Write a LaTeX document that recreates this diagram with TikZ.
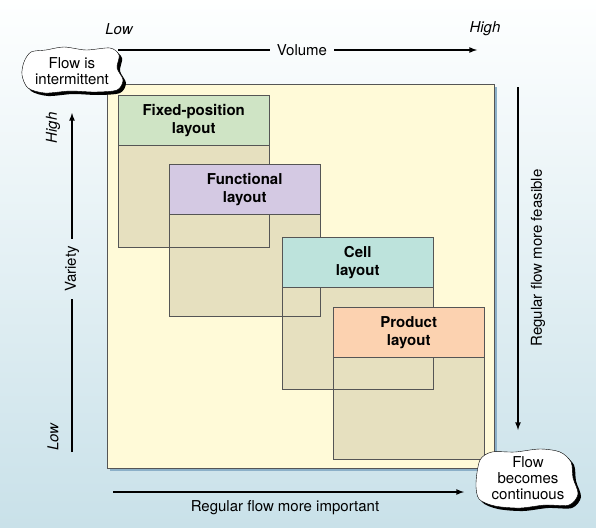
\documentclass[tikz,border=0pt]{standalone}
\usepackage{fontspec}
\setmainfont{TeX Gyre Heros}
\usepackage{tikz}
\definecolor{panel}{RGB}{255,250,216}
\definecolor{panelshadow}{RGB}{140,176,200}
\definecolor{tan}{RGB}{230,224,191}
\definecolor{boxline}{RGB}{85,85,85}
\definecolor{fixedc}{RGB}{207,228,197}
\definecolor{funcc}{RGB}{212,201,227}
\definecolor{cellc}{RGB}{189,227,220}
\definecolor{prodc}{RGB}{252,210,176}
\definecolor{bgtop}{RGB}{254,255,255}
\definecolor{bgbot}{RGB}{201,225,233}
\tikzstyle{body} = [fill=tan, minimum width=151pt, minimum height=152pt, anchor=north west, inner sep=0pt]
\tikzstyle{head} = [draw=boxline, minimum width=151pt, minimum height=50pt, anchor=north west, inner sep=0pt, align=center, font={\fontsize{15}{18}\selectfont\bfseries}]
\tikzstyle{axis} = [line width=1.6pt, -latex]
\tikzstyle{gap} = [inner sep=7pt]
\tikzstyle{lowhigh} = [font={\fontsize{15}{18}\selectfont\itshape}]
\tikzstyle{cloudtext} = [align=center, font={\fontsize{15}{16}\selectfont}]

\begin{document}
\begin{tikzpicture}[x=1pt, y=-1pt, font={\fontsize{15}{18}\selectfont}]
    \useasboundingbox (0,0) rectangle (596,527);
    \shade[top color=bgtop, bottom color=bgbot] (0,0) rectangle (596,527);
    % panel
    \fill[panelshadow] (110,87) rectangle (497,471);
    \draw[fill=panel, draw=boxline] (107,84) rectangle (494,468);
    % layouts
    \node[body](b0) at (118,95){};
    \node[body](b1) at (169,164){};
    \node[body](b2) at (282,237){};
    \node[body](b3) at (333,307){};
    \foreach \b in {b0,b1,b2,b3}
      \draw[boxline] (\b.north west) rectangle (\b.south east);
    \node[head,fill=fixedc](0) at (118,95){Fixed-position\\layout};
    \node[head,fill=funcc](1) at (169,164){Functional\\layout};
    \node[head,fill=cellc](2) at (282,237){Cell\\layout};
    \node[head,fill=prodc](3) at (333,307){Product\\layout};
    % volume
    \node[lowhigh](vlow) at (119,29){Low};
    \node[lowhigh](vhigh) at (485,29){High};
    \coordinate (v0) at (118,50);
    \coordinate (v1) at (477,50);
    \node[gap](volume) at (302,50){Volume};
    \draw[line width=1.6pt] (v0) -- (volume);
    \draw[axis] (volume) -- (v1);
    % variety
    \node[lowhigh,rotate=90](hhigh) at (53,128){High};
    \node[lowhigh,rotate=90](hlow) at (53,437){Low};
    \coordinate (h0) at (72,452);
    \coordinate (h1) at (72,113);
    \node[gap,rotate=90](variety) at (72,269){Variety};
    \draw[line width=1.6pt] (h0) -- (variety);
    \draw[axis] (variety) -- (h1);
    % regular flow
    \coordinate (r0) at (518,87);
    \coordinate (r1) at (518,430);
    \draw[axis] (r0) -- (r1);
    \node[rotate=90](feasible) at (538,258){Regular flow more feasible};
    \coordinate (r2) at (113,492);
    \coordinate (r3) at (464,492);
    \draw[axis] (r2) -- (r3);
    \node(important) at (285,508){Regular flow more important};
    % clouds
    \fill[black,shift={(3,3)}] plot[smooth cycle] coordinates {(24,62) (31,52) (46,50) (64,47) (86,50) (110,48) (119,55) (117,68) (123,80) (117,90) (95,92) (70,91) (45,93) (28,88) (22,75)};
    \draw[fill=white] plot[smooth cycle] coordinates {(24,62) (31,52) (46,50) (64,47) (86,50) (110,48) (119,55) (117,68) (123,80) (117,90) (95,92) (70,91) (45,93) (28,88) (22,75)};
    \node[cloudtext](intermittent) at (72,71){Flow is\\intermittent};
    \fill[black,shift={(3,3)}] plot[smooth cycle] coordinates {(480,460) (492,452) (515,452) (540,449) (560,452) (571,462) (573,478) (578,494) (569,505) (545,505) (520,508) (495,506) (479,499) (476,483)};
    \draw[fill=white] plot[smooth cycle] coordinates {(480,460) (492,452) (515,452) (540,449) (560,452) (571,462) (573,478) (578,494) (569,505) (545,505) (520,508) (495,506) (479,499) (476,483)};
    \node[cloudtext](continuous) at (528,478){Flow\\becomes\\continuous};
\end{tikzpicture}
\end{document}
